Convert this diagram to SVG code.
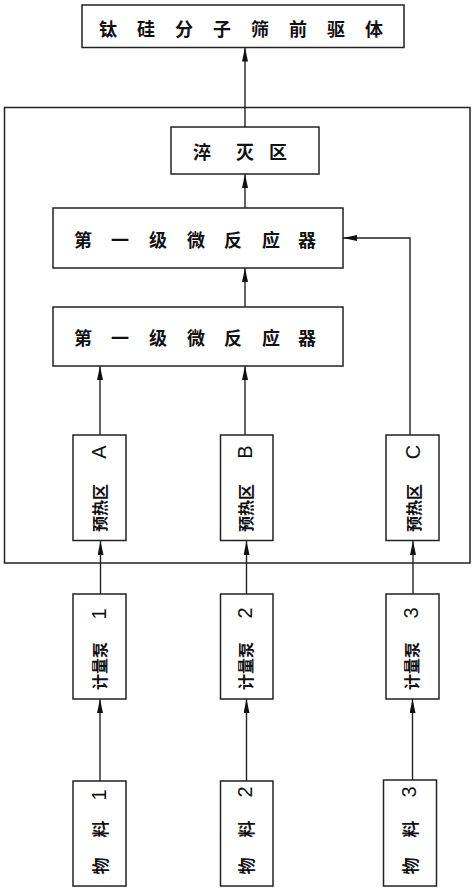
<svg xmlns="http://www.w3.org/2000/svg" width="474" height="889" viewBox="0 0 474 889">
<style>
.box{fill:#fff;stroke:#222;stroke-width:1.5}
.frame{fill:none;stroke:#222;stroke-width:1.5}
.ln{fill:none;stroke:#222;stroke-width:1.4}
.cjk{font-family:"Noto Sans CJK SC","Noto Sans",sans-serif;fill:#111;text-anchor:middle;dominant-baseline:central}
.h{font-size:18px;font-weight:700}
.v{font-size:16px;font-weight:700}
.vm{font-size:17px;font-weight:700}
.lat{font-family:"Liberation Sans","DejaVu Sans",sans-serif;font-size:20px;font-weight:400}
</style>
<defs>
<marker id="arr" markerUnits="userSpaceOnUse" markerWidth="14" markerHeight="6" refX="14" refY="3" orient="auto">
<path d="M0,0 L14,3 L0,6 z" fill="#111"/>
</marker>
</defs>
<rect class="frame" x="4.5" y="107.5" width="465.5" height="455.5"/>
<g id="connectors">
<line class="ln" x1="245" y1="127" x2="245" y2="47.5" marker-end="url(#arr)"/>
<line class="ln" x1="245" y1="208" x2="245" y2="174" marker-end="url(#arr)"/>
<line class="ln" x1="245" y1="307" x2="245" y2="268" marker-end="url(#arr)"/>
<line class="ln" x1="100" y1="435" x2="100" y2="366" marker-end="url(#arr)"/>
<line class="ln" x1="245" y1="435" x2="245" y2="366" marker-end="url(#arr)"/>
<polyline class="ln" points="410,435 410,238 343,238" marker-end="url(#arr)"/>
<line class="ln" x1="100.5" y1="594" x2="100.5" y2="541" marker-end="url(#arr)"/>
<line class="ln" x1="246.5" y1="594" x2="246.5" y2="541" marker-end="url(#arr)"/>
<line class="ln" x1="413" y1="594" x2="413" y2="541" marker-end="url(#arr)"/>
<line class="ln" x1="100" y1="781" x2="100" y2="699" marker-end="url(#arr)"/>
<line class="ln" x1="246.5" y1="781" x2="246.5" y2="699" marker-end="url(#arr)"/>
<line class="ln" x1="412.5" y1="780" x2="412.5" y2="699" marker-end="url(#arr)"/>
</g>
<g id="product">
<rect class="box" x="82" y="5" width="322" height="42.5"/>
<text class="cjk h" x="108 146 184 222 260 298 336 374" y="28">钛硅分子筛前驱体</text>
</g>
<g id="quench">
<rect class="box" x="171" y="127" width="148" height="47"/>
<text class="cjk h" x="202 245 278" y="151">淬灭区</text>
</g>
<g id="reactor-upper">
<rect class="box" x="53" y="208" width="290" height="60"/>
<text class="cjk h" x="83 120 158 196 233 271 307" y="239">第一级微反应器</text>
</g>
<g id="reactor-lower">
<rect class="box" x="53" y="307" width="290" height="59"/>
<text class="cjk h" x="83 120 158 196 233 271 307" y="337">第一级微反应器</text>
</g>
<g id="preheat-a">
<rect class="box" x="73" y="435" width="53" height="105.5"/>
<text class="cjk v" transform="translate(99,0) rotate(-90)"><tspan x="-508" y="0">预热区</tspan><tspan class="lat" x="-452" y="0">A</tspan></text>
</g>
<g id="preheat-b">
<rect class="box" x="220.5" y="435" width="52.5" height="105.5"/>
<text class="cjk v" transform="translate(245,0) rotate(-90)"><tspan x="-508" y="0">预热区</tspan><tspan class="lat" x="-452" y="0">B</tspan></text>
</g>
<g id="preheat-c">
<rect class="box" x="386" y="435" width="53" height="105.5"/>
<text class="cjk v" transform="translate(413,0) rotate(-90)"><tspan x="-508" y="0">预热区</tspan><tspan class="lat" x="-452" y="0">C</tspan></text>
</g>
<g id="pump-1">
<rect class="box" x="73" y="594" width="53" height="105"/>
<text class="cjk v" transform="translate(99,0) rotate(-90)"><tspan x="-666" y="0">计量泵</tspan><tspan class="lat" x="-614" y="0">1</tspan></text>
</g>
<g id="pump-2">
<rect class="box" x="220.5" y="594" width="52.5" height="105"/>
<text class="cjk v" transform="translate(245,0) rotate(-90)"><tspan x="-666" y="0">计量泵</tspan><tspan class="lat" x="-613" y="0">2</tspan></text>
</g>
<g id="pump-3">
<rect class="box" x="386" y="594" width="53" height="105"/>
<text class="cjk v" transform="translate(411,0) rotate(-90)"><tspan x="-666" y="0">计量泵</tspan><tspan class="lat" x="-613" y="0">3</tspan></text>
</g>
<g id="material-1">
<rect class="box" x="73" y="781" width="53" height="105"/>
<text class="cjk vm" transform="translate(98.5,0) rotate(-90)"><tspan x="-866" y="0">物</tspan><tspan x="-829" y="0">料</tspan><tspan class="lat" x="-795" y="0">1</tspan></text>
</g>
<g id="material-2">
<rect class="box" x="220.5" y="781" width="52.5" height="105"/>
<text class="cjk vm" transform="translate(245,0) rotate(-90)"><tspan x="-866" y="0">物</tspan><tspan x="-829" y="0">料</tspan><tspan class="lat" x="-792" y="0">2</tspan></text>
</g>
<g id="material-3">
<rect class="box" x="383.5" y="780" width="53" height="106"/>
<text class="cjk vm" transform="translate(409,0) rotate(-90)"><tspan x="-866" y="0">物</tspan><tspan x="-829" y="0">料</tspan><tspan class="lat" x="-792" y="0">3</tspan></text>
</g>
</svg>
